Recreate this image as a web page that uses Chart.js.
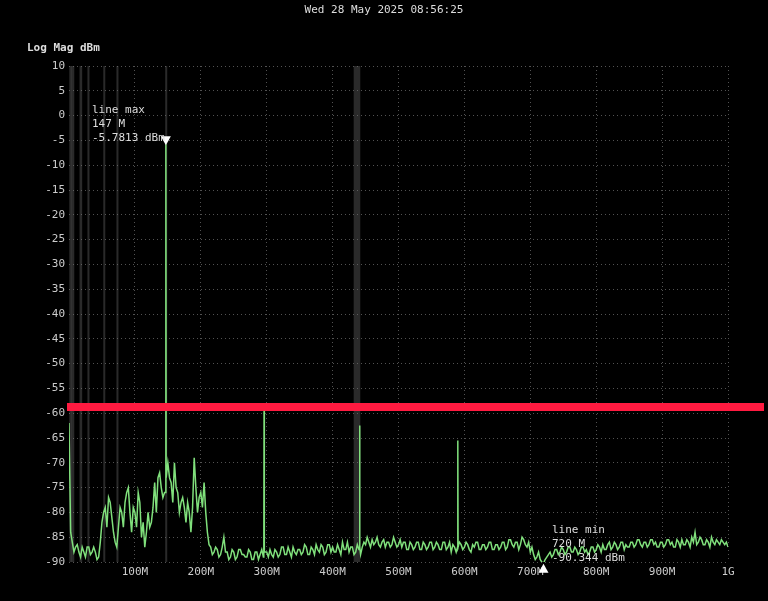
<!DOCTYPE html>
<html><head><meta charset="utf-8">
<script src="https://cdn.jsdelivr.net/npm/chart.js@4"></script>
<style>html,body{margin:0;padding:0;background:#000;}#wrap{width:768px;height:601px;}</style>
</head><body><div id="wrap"><canvas id="c"></canvas></div>
<script>
const baseStart = 0, baseStep = 5; // MHz grid of base trace
const baseMag = [
-62,-86,-87,-88,-87,-89,-87,-88,-88,-89,
-82,-79,-77,-81,-86,-83,-80,-78,-75,-84,
-80,-76,-85,-87,-80,-82,-74,-73,-75,-76,
-70,-74,-70,-76,-78,-79,-78,-84,-69,-80,
-76,-74,-84,-87,-88,-87.5,-88.5,-85,-88,-89,
-88,-89,-87.5,-88.5,-89,-88,-89.5,-88,-88.5,-89,
-88,-87.5,-89,-88,-88.5,-87,-88.5,-88,-87,-88.5,
-87.5,-88,-87,-88.5,-87.5,-86.5,-88,-87,-88,-86.5,
-87,-88,-87.5,-86,-87.5,-88,-87,-88,-87.5,-87,
-86.5,-86,-85.5,-86,-86.5,-86,-87,-86,-86.5,-86,
-86.5,-87,-86,-87.5,-86.5,-87,-86,-87.5,-86.5,-87,
-86,-87,-86.5,-87.5,-86,-87,-88,-87,-87.5,-86.5,
-87,-86.5,-88,-87,-86,-87.5,-86.5,-87,-86,-87.5,
-86.5,-87,-86,-87,-85.5,-87,-86,-86.5,-85.5,-87,
-88,-88.5,-89,-89.5,-90.3,-89,-88,-88.5,-87.5,-88,
-87.5,-88,-87,-88,-87.5,-88,-87,-87.5,-88,-87,
-87.5,-87,-86.5,-87.5,-86,-87,-86.5,-87,-86,-86.5,
-87,-86,-86.5,-85.5,-87,-86,-86.5,-85.5,-86,-87,
-86,-86.5,-85.5,-86,-87,-86,-85.5,-86.5,-86,-85,
-84,-86,-85.5,-86.5,-86,-85,-86.5,-86,-85.5,-86.5,-87
];
const midStart = 2.5, midStep = 5; // in-between trace samples
const midMag = [
-84,-88,-86.5,-89,-88,-87,-88.5,-87,-89.5,-86,
-80,-83,-78,-84,-87,-79,-83,-76,-80,-79,
-83,-78,-82,-84,-83,-79,-80,-72,-77,-73,
-73,-78,-75,-80,-77,-82,-80,-79,-75,-77,
-79,-80,-86.5,-88.5,-87,-89,-87,-88,-89.5,-87.5,
-89.5,-87.5,-88.5,-89,-87.5,-89.5,-88,-89.5,-87.5,-88,
-89,-88.5,-87.5,-89,-87,-88.5,-87,-89,-88,-87.5,
-88.5,-86.5,-88.5,-87,-88.5,-87.5,-86.5,-88.5,-86.5,-88,
-88,-86.5,-88.5,-87.5,-86,-87,-88.5,-86.5,-88.5,-86,
-85,-87,-86.5,-85,-87,-85.5,-86,-87,-85,-87,
-85.5,-86,-87.5,-86,-87.5,-86,-87.5,-86,-87.5,-86,
-87.5,-86,-87.5,-86,-87.5,-86,-86.5,-88,-86,-87.5,
-86,-87.5,-86.5,-86,-87.5,-86.5,-87.5,-86,-87.5,-86.5,
-87.5,-86,-87.5,-85.5,-86.5,-86,-87.5,-85,-86.5,-86,
-87,-89.5,-88,-90,-89.5,-88.5,-89,-87.5,-88.5,-87,
-88.5,-87,-88,-87,-88.5,-87,-88,-88.5,-87,-88,
-86.5,-88,-87.5,-86.5,-87.5,-86,-87.5,-86,-87.5,-87,
-86,-87,-85.5,-86.5,-86,-87,-85.5,-86.5,-87,-86,
-87,-85.5,-86.5,-87,-85.5,-87,-86.5,-85.5,-87,-86,
-86.5,-85,-86.5,-85.5,-87,-86,-85.5,-86.5,-86,-86
];
const spikeFreq = [146.6,147,147.4, 295.6,296,296.4, 440.6,441,441.4, 589.6,590,590.4];
const spikeMag  = [-76,-5.7813,-72, -88,-59.5,-88, -87.5,-62.5,-87, -87,-65.5,-87];
const bandStart = [0.5,3,16,28,52,72,146,432];
const bandEnd   = [2,8,20,30,54,74,148,442];
const limitLine = -58.75;
const yTicks = [10,5,0,-5,-10,-15,-20,-25,-30,-35,-40,-45,-50,-55,-60,-65,-70,-75,-80,-85,-90];
const xTickVals = [100,200,300,400,500,600,700,800,900,1000];
const xTickLabels = ['100M','200M','300M','400M','500M','600M','700M','800M','900M','1G'];
const maxMarker = {f:147, m:-5.7813, lines:['line max','147 M','-5.7813 dBm']};
const minMarker = {f:720, m:-90.344, lines:['line min','720 M','-90.344 dBm']};
const titleText = 'Wed 28 May 2025 08:56:25';
const yTitle = 'Log Mag dBm';

let pts = baseMag.map((v,i)=>({x:baseStart+i*baseStep,y:v}));
midMag.forEach((v,i)=>pts.push({x:midStart+i*midStep,y:v}));
spikeFreq.forEach((f,i)=>pts.push({x:f,y:spikeMag[i]}));
pts.sort((a,b)=>a.x-b.x);

const FONT = '"DejaVu Sans Mono", monospace';
const deco = {
  id:'deco',
  beforeDraw(ch){
    const c=ch.ctx; c.save(); c.fillStyle='#000'; c.fillRect(0,0,ch.width,ch.height); c.restore();
  },
  beforeDatasetsDraw(ch){
    const c=ch.ctx,x=ch.scales.x,a=ch.chartArea;
    c.save(); c.fillStyle='rgba(120,120,120,0.35)';
    bandStart.forEach((s,i)=>{const p0=x.getPixelForValue(s),p1=x.getPixelForValue(bandEnd[i]);c.fillRect(p0,a.top,Math.max(2,p1-p0),a.bottom-a.top);});
    c.restore();
  },
  afterDatasetsDraw(ch){
    const c=ch.ctx,x=ch.scales.x,y=ch.scales.y,a=ch.chartArea;
    c.save();
    c.fillStyle='#ff1a40';
    const ly=y.getPixelForValue(limitLine); c.fillRect(a.left-2,ly-4,ch.width-a.left-2,8);
    c.fillStyle='#fff';
    let px=x.getPixelForValue(maxMarker.f),py=y.getPixelForValue(maxMarker.m);
    c.beginPath();c.moveTo(px,py+1);c.lineTo(px-5,py-8);c.lineTo(px+5,py-8);c.closePath();c.fill();
    px=x.getPixelForValue(minMarker.f);py=y.getPixelForValue(minMarker.m);
    c.beginPath();c.moveTo(px,py);c.lineTo(px-5,py+9);c.lineTo(px+5,py+9);c.closePath();c.fill();
    c.fillStyle='#ddd';c.font='11px '+FONT;c.textBaseline='middle';c.textAlign='left';
    maxMarker.lines.forEach((t,i)=>c.fillText(t,92,110+i*14));
    minMarker.lines.forEach((t,i)=>c.fillText(t,552,530+i*14));
    c.textAlign='center';c.fillText(titleText,384,10);
    c.textAlign='left';c.font='bold 11px '+FONT;c.fillText(yTitle,27,48);
    c.restore();
  }
};
new Chart(document.getElementById('c'),{
  type:'line',
  data:{datasets:[{data:pts,borderColor:'#80e07c',borderWidth:1.5,pointRadius:0,tension:0,fill:false}]},
  options:{
    responsive:true,maintainAspectRatio:false,animation:false,
    layout:{padding:{left:0,right:40,top:66,bottom:0}},
    plugins:{legend:{display:false},tooltip:{enabled:false}},
    scales:{
      x:{type:'linear',min:0,max:1000,
        afterBuildTicks(s){s.ticks=xTickVals.map(v=>({value:v}));},
        afterFit(s){s.height=39;},
        ticks:{color:'#ccc',font:{family:FONT,size:11},maxRotation:0,padding:4,
          callback:(v)=>{const i=xTickVals.indexOf(v);return i>=0?xTickLabels[i]:'';}},
        grid:{color:'rgba(150,150,150,0.55)',tickLength:0},border:{display:false,dash:[1,3]}
      },
      y:{min:-90,max:10,
        afterBuildTicks(s){s.ticks=yTicks.map(v=>({value:v}));},
        afterFit(s){s.width=69;},
        ticks:{color:'#ccc',font:{family:FONT,size:11},padding:4},
        grid:{color:'rgba(150,150,150,0.55)',tickLength:0},border:{display:false,dash:[1,3]}
      }
    }
  },
  plugins:[deco]
});
</script></body></html>
